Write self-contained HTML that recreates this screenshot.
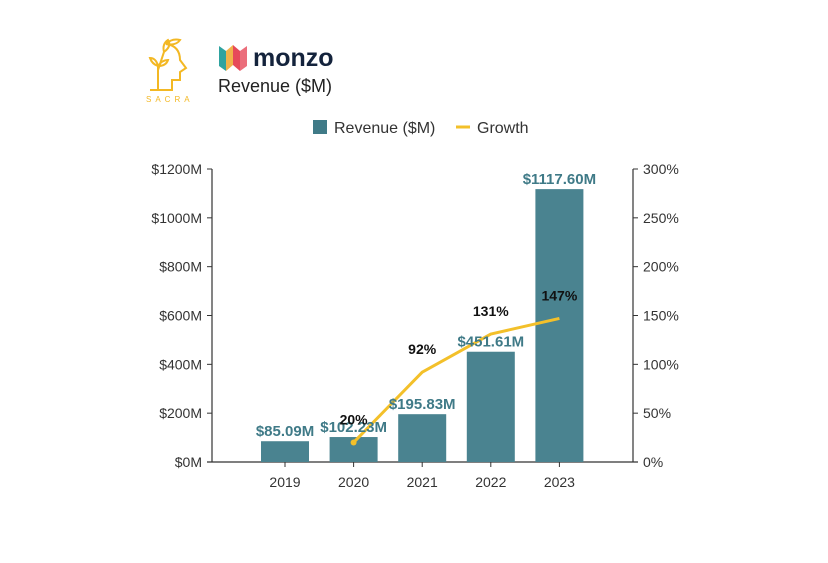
<!DOCTYPE html>
<html><head><meta charset="utf-8"><style>
body{margin:0;background:#fff;font-family:"Liberation Sans",sans-serif;}
</style></head><body>
<svg width="828" height="558" viewBox="0 0 828 558" xmlns="http://www.w3.org/2000/svg" font-family="Liberation Sans, sans-serif">
<g fill="none" stroke="#f3b824" stroke-width="2">
<path d="M150 90 L172 90 L172 80 L180 80 L180 72 L186 68 L180 60 Q180 46 166 44"/>
<path d="M158 90 L158 66 M158 66 q-6 -2 -8 -8 q6 0 8 8 M158 66 q4 -6 10 -6 q-2 6 -10 6 M158 70 L164 52 q-2 -8 4 -12 q4 6 -4 12 M166 44 q6 -6 14 -4 q-4 6 -14 4"/>
</g>
<text x="146" y="102" font-size="8" fill="#f3b824" letter-spacing="4">SACRA</text>
<g>
<path d="M219 46 l7 5 v20 l-7 -5z" fill="#2fa3a0"/><path d="M226 51 l7 -6 v20 l-7 6z" fill="#f1b24a"/><path d="M233 45 l7 6 v20 l-7 -6z" fill="#e64a5a"/><path d="M240 51 l7 -5 v20 l-7 5z" fill="#e64a5a" opacity="0.8"/>
</g>
<text x="253" y="66" font-size="25" font-weight="bold" fill="#14233c">monzo</text>
<text x="218" y="92" font-size="18" fill="#222">Revenue ($M)</text>
<rect x="313" y="120" width="14" height="14" fill="#3f7a87"/>
<text x="334" y="133" font-size="16" fill="#333">Revenue ($M)</text>
<line x1="456" y1="127" x2="470" y2="127" stroke="#f3c02a" stroke-width="3"/>
<text x="477" y="133" font-size="16" fill="#333">Growth</text>
<g id="chart"></g>
</svg>
<script>
const categories=["2019","2020","2021","2022","2023"];
const revenue=[85.09,102.23,195.83,451.61,1117.60];
const revenueLabels=["$85.09M","$102.23M","$195.83M","$451.61M","$1117.60M"];
const growth=[null,20,92,131,147];
const leftTicks=[0,200,400,600,800,1000,1200];
const rightTicks=[0,50,100,150,200,250,300];
const NS="http://www.w3.org/2000/svg";
const g=document.getElementById('chart');
const X0=212,X1=633,Y0=462,Y1=169;
const x=i=>285+68.6*i;
const yL=v=>Y0-(v/1200)*(Y0-Y1);
const yR=v=>Y0-(v/300)*(Y0-Y1);
function mk(t,a,txt){const e=document.createElementNS(NS,t);for(const k in a)e.setAttribute(k,a[k]);if(txt!=null)e.textContent=txt;g.appendChild(e);return e;}
let e;
e=mk('line',{x1:X0,y1:Y1,x2:X0,y2:Y0,stroke:'#333','stroke-width':1.2});

e=mk('line',{x1:X1,y1:Y1,x2:X1,y2:Y0,stroke:'#333','stroke-width':1.2});

e=mk('line',{x1:X0-5,y1:Y0,x2:X1+5,y2:Y0,stroke:'#333','stroke-width':1.2});

leftTicks.forEach(v=>{
 e=mk('line',{x1:X0-5,y1:yL(v),x2:X0,y2:yL(v),stroke:'#333'});
 
 e=mk('text',{x:X0-10,y:yL(v)+5,'font-size':14,'text-anchor':'end',fill:'#333'},'$'+v+'M');
 
});
rightTicks.forEach(v=>{
 e=mk('line',{x1:X1,y1:yR(v),x2:X1+5,y2:yR(v),stroke:'#333'});
 
 e=mk('text',{x:X1+10,y:yR(v)+5,'font-size':14,fill:'#333'},v+'%');
 
});
categories.forEach((c,i)=>{
 e=mk('rect',{x:x(i)-24,y:yL(revenue[i]),width:48,height:Y0-yL(revenue[i]),fill:'#4a8390'});
 
 e=mk('line',{x1:x(i),y1:Y0,x2:x(i),y2:Y0+5,stroke:'#333'});
 
 e=mk('text',{x:x(i),y:Y0+25,'font-size':14,'text-anchor':'middle',fill:'#333'},c);
 
});
const pts=[];growth.forEach((v,i)=>{if(v!=null)pts.push([x(i),yR(v)]);});
e=mk('polyline',{points:pts.map(p=>p.join(',')).join(' '),fill:'none',stroke:'#f3c02a','stroke-width':3,'stroke-linejoin':'round'});

e=mk('circle',{cx:pts[0][0],cy:pts[0][1],r:3,fill:'#f3c02a'});

categories.forEach((c,i)=>{
 e=mk('text',{x:x(i),y:yL(revenue[i])-5,'font-size':15,'font-weight':'bold','text-anchor':'middle',fill:'#3f7a87'},revenueLabels[i]);
 
});
growth.forEach((v,i)=>{if(v==null)return;
 e=mk('text',{x:x(i),y:yR(v)-18,'font-size':14,'font-weight':'bold','text-anchor':'middle',fill:'#111'},v+'%');
 
});
</script>
</body></html>
